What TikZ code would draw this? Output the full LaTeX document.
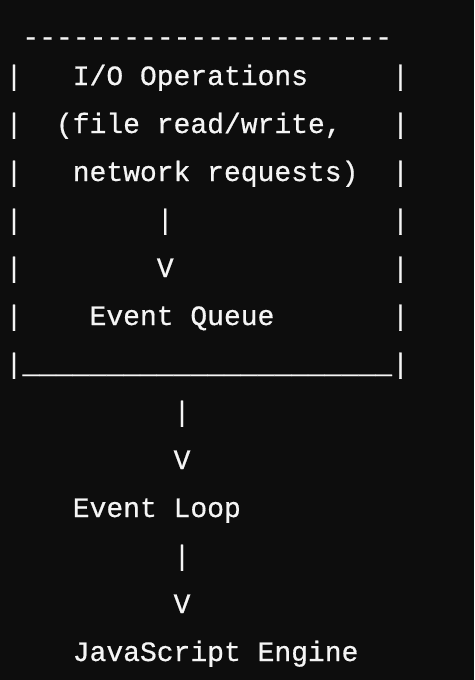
\documentclass[tikz,border=0pt]{standalone}
\usepackage{fontspec}
\setmonofont{Liberation Mono}[FakeBold=0.6]
\usetikzlibrary{positioning}
\usepackage{xcolor}
\definecolor{termBack}{HTML}{0D0D0D}
\definecolor{termText}{HTML}{F5F5F5}
\tikzset{
  x=1pt, y=-1pt,
  row/.style={anchor=base west, inner sep=0pt, outer sep=0pt, text=termText,
    font=\ttfamily\fontsize{28}{48}\selectfont\frenchspacing},
  nextrow/.style={row, below=48pt of #1.base west, anchor=base west}
}

\begin{document}
\begin{tikzpicture}
    \fill[termBack] (0,0) rectangle (474,680);
    \useasboundingbox (0,0) rectangle (474,680);

    \node[row] (boxtop) at (5.6,46) {~----------------------};
    \node[row] (ioops) at (5.6,85) {|~~~I/O Operations~~~~~|};
    \node[nextrow=ioops] (iofile) {|~~(file read/write,~~~|};
    \node[nextrow=iofile] (ionet) {|~~~network requests)~~|};
    \node[nextrow=ionet] (qbar) {|~~~~~~~~|~~~~~~~~~~~~~|};
    \node[nextrow=qbar] (qhead) {|~~~~~~~~V~~~~~~~~~~~~~|};
    \node[nextrow=qhead] (queue) {|~~~~Event Queue~~~~~~~|};
    \node[nextrow=queue] (boxbottom) {|\_\_\_\_\_\_\_\_\_\_\_\_\_\_\_\_\_\_\_\_\_\_|};
    \node[nextrow=boxbottom] (loopbar) {~~~~~~~~~~|};
    \node[nextrow=loopbar] (loophead) {~~~~~~~~~~V};
    \node[nextrow=loophead] (loop) {~~~~Event Loop};
    \node[nextrow=loop] (enginebar) {~~~~~~~~~~|};
    \node[nextrow=enginebar] (enginehead) {~~~~~~~~~~V};
    \node[nextrow=enginehead] (engine) {~~~~JavaScript Engine};
\end{tikzpicture}
\end{document}
